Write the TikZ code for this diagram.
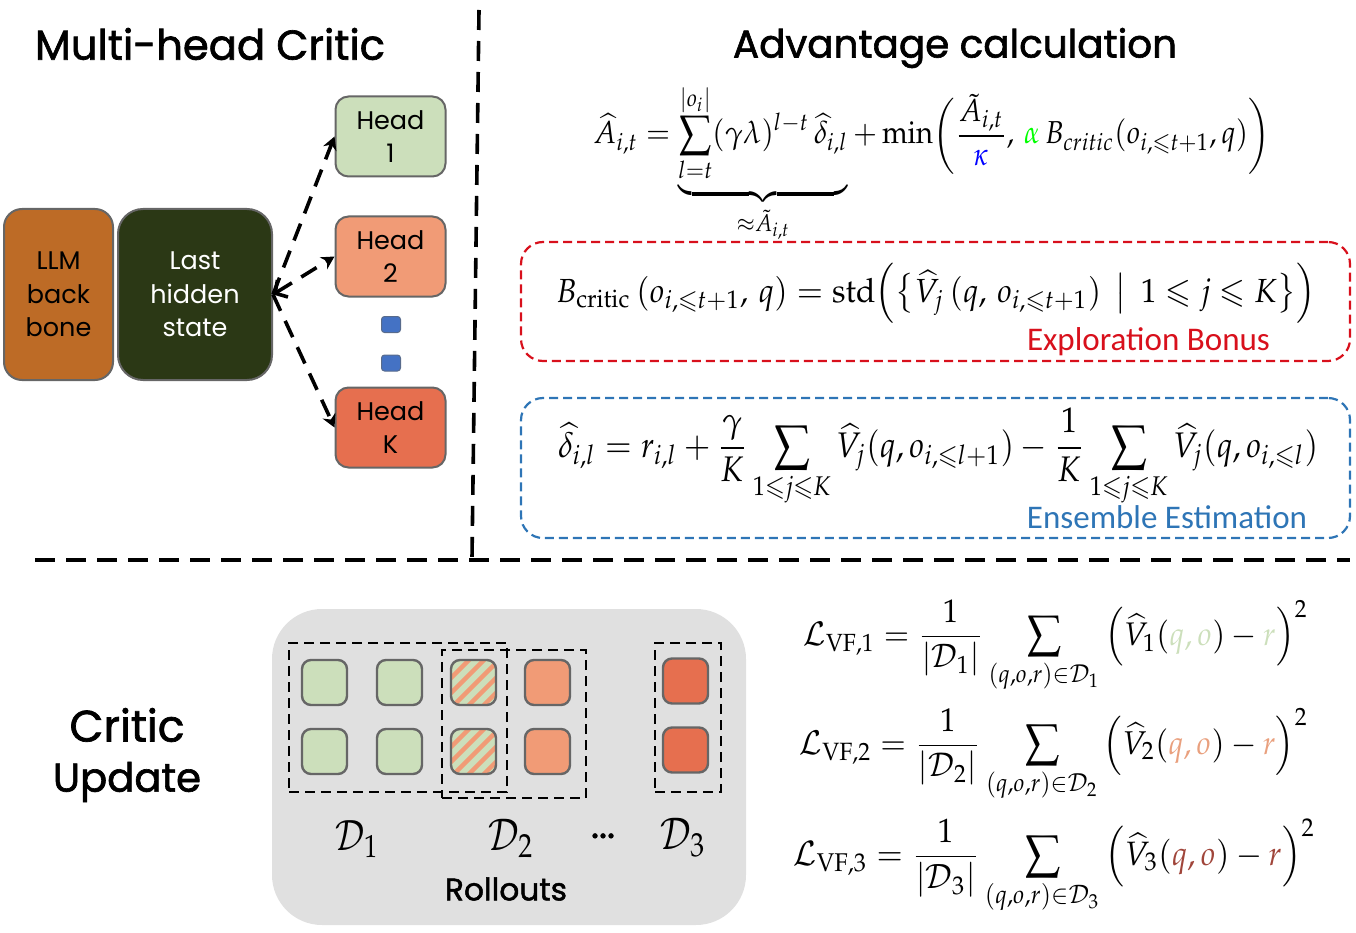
\documentclass[tikz,border=0pt]{standalone}
\usepackage[no-math]{fontspec}
\usepackage{amsmath,amssymb}
\usepackage{mathpazo}
\usepackage{graphicx}
\newfontfamily\handf{Poppins}
\newfontfamily\handb{Poppins}[FakeBold=1.6]
\newfontfamily\carl{Carlito}
\usetikzlibrary{arrows.meta,calc}
\definecolor{cgreen}{HTML}{CCDFBB}
\definecolor{corange}{HTML}{F19B76}
\definecolor{cred}{HTML}{E66F4F}
\definecolor{cbrown}{HTML}{BD6B26}
\definecolor{cdark}{HTML}{2B3815}
\definecolor{cblue}{HTML}{4472C4}
\definecolor{cedge}{HTML}{666666}
\definecolor{cgray}{HTML}{E0E0E0}
\definecolor{bonus}{HTML}{D8101C}
\definecolor{ens}{HTML}{2E75B6}
\definecolor{lthree}{HTML}{A0453A}
\definecolor{ltwo}{HTML}{E9A07E}
\newcommand{\fitw}[2]{\resizebox{#1pt}{!}{#2}}
\newcommand{\fitv}[3]{\resizebox{#1pt}{!}{\scalebox{1}[#2]{#3}}}
\tikzset{
  box/.style={draw=cedge,line width=2pt,rectangle,inner sep=0pt,align=center,font=\handf\fontsize{25.5}{33.5}\selectfont},
  head/.style={box,minimum width=110pt,minimum height=80pt,rounded corners=13pt,text=black},
  sq/.style={draw=cedge,line width=2.4pt,rectangle,inner sep=0pt,minimum width=45pt,minimum height=45pt,rounded corners=9pt},
  dot/.style={draw=cedge!60!cblue,line width=1pt,fill=cblue,rectangle,inner sep=0pt,minimum width=19pt,minimum height=16pt,rounded corners=3pt},
  flow/.style={line width=3.6pt,dash pattern=on 18pt off 11pt,-{Stealth[length=13pt,width=14pt]}},
  divider/.style={line width=3.6pt,black,dash pattern=on 20pt off 11pt},
  group/.style={draw=black,line width=2.3pt,dash pattern=on 10pt off 6pt,rectangle,inner sep=0pt},
  framed/.style={line width=2.2pt,dash pattern=on 9pt off 5pt,rectangle,rounded corners=22pt,inner sep=0pt},
  mathlabel/.style={inner sep=0pt,anchor=base west},
  hand/.style={inner sep=0pt,anchor=center,font=\handb},
  hatched/.style={sq,fill=cgreen,path picture={
    \foreach \d in {-42,-27,-12,3,18,33,48}
      \draw[corange,line width=4.5pt] ($(path picture bounding box.center)+(\d-30,30)$) -- ($(path picture bounding box.center)+(\d+30,-30)$);}}
}
\begin{document}
\begin{tikzpicture}[x=1pt,y=-1pt]
\useasboundingbox (0,0) rectangle (1356,933);
% titles
\node[hand] (t1) at (210,44) {\fitw{350}{Multi-head Critic}};
\node[hand] (t2) at (955,48) {\fitw{444}{Advantage calculation}};
\node[hand] (t3) at (127,725) {\fitw{115}{Critic}};
\node[hand] (t4) at (127,782) {\fitw{148}{Update}};
% dividers
\coordinate (v1) at (479,10); \coordinate (v2) at (472,558);
\coordinate (h1) at (35,560); \coordinate (h2) at (1350,560);
\draw[divider] (v1) -- (v2);
\draw[divider] (h1) -- (h2);
% backbone
\node[box,minimum width=109pt,minimum height=171pt,rounded corners=18pt,fill=cbrown] (llm) at (58.5,294.5) {LLM\\back\\bone};
\node[box,minimum width=154pt,minimum height=171pt,rounded corners=25pt,fill=cdark,text=white] (last) at (195,294.5) {Last\\hidden\\state};
\node[head,fill=cgreen] (h1n) at (390.5,136.5) {Head\\1};
\node[head,fill=corange] (h2n) at (390.5,256.5) {Head\\2};
\node[head,fill=cred] (hkn) at (390.5,427.5) {Head\\K};
\node[dot] (d1) at (391,324.5) {};
\node[dot] (d2) at (391,363) {};
\draw[flow] (last.east) -- (h1n.west);
\draw[flow,{Straight Barb[length=9pt,width=20pt]}-{Stealth[length=13pt,width=14pt]}] (last.east) -- (h2n.west);
\draw[flow] (last.east) -- (hkn.west);
% formula frames
\node[framed,draw=bonus,minimum width=829pt,minimum height=119pt] (fb) at (935.5,301.5) {};
\node[framed,draw=ens,minimum width=829pt,minimum height=140pt] (fe) at (935.5,468) {};
\node[inner sep=0pt,text=bonus] (lb) at (1148.5,342) {\fitw{243}{\carl Exploration Bonus}};
\node[inner sep=0pt,text=ens] (le) at (1167,517) {\fitw{280}{\carl Ensemble Estimation}};
% formulas
\node[mathlabel] (f1) at (593,144) {\fitv{677}{1.09}{$\displaystyle \widehat{A}_{i,t}=\underbrace{\sum_{l=t}^{|o_i|}(\gamma\lambda)^{l-t}\,\widehat{\delta}_{i,l}}_{\approx\tilde{A}_{i,t}}+\min\!\left(\frac{\tilde{A}_{i,t}}{\textcolor{blue}{\kappa}},\,\textcolor{green}{\alpha}\,B_{critic}(o_{i,\leqslant t+1},q)\right)$}};
\node[mathlabel] (f2) at (556,302) {\fitv{760}{1.05}{$\displaystyle B_{\mathrm{critic}}\left(o_{i,\leqslant t+1},\,q\right)=\mathrm{std}\Bigl(\bigl\{\widehat{V}_j\left(q,\,o_{i,\leqslant t+1}\right)\,\bigm|\,1\leqslant j\leqslant K\bigr\}\Bigr)$}};
\node[mathlabel] (f3) at (558,457) {\fitv{760}{1.1}{$\displaystyle \widehat{\delta}_{i,l}=r_{i,l}+\frac{\gamma}{K}\sum_{1\leqslant j\leqslant K}\widehat{V}_j(q,o_{i,\leqslant l+1})-\frac{1}{K}\sum_{1\leqslant j\leqslant K}\widehat{V}_j(q,o_{i,\leqslant l})$}};
% rollouts
\node[rectangle,fill=cgray,minimum width=474pt,minimum height=316pt,rounded corners=50pt,inner sep=0pt] (roll) at (509,767) {};
\node[sq,fill=cgreen] (a11) at (324.5,682.5) {};
\node[sq,fill=cgreen] (a12) at (399.5,682.5) {};
\node[hatched] (a13) at (473.5,682.5) {};
\node[sq,fill=corange] (a14) at (547.5,682.5) {};
\node[sq,fill=cgreen] (a21) at (324.5,751.5) {};
\node[sq,fill=cgreen] (a22) at (399.5,751.5) {};
\node[hatched] (a23) at (473.5,751.5) {};
\node[sq,fill=corange] (a24) at (547.5,751.5) {};
\node[sq,fill=cred] (a15) at (685.5,681) {};
\node[sq,fill=cred] (a25) at (685.5,750) {};
\node[group,minimum width=218pt,minimum height=149pt] (g1) at (398,717.5) {};
\node[group,minimum width=144pt,minimum height=148pt] (g2) at (514,724) {};
\node[group,minimum width=66pt,minimum height=149pt] (g3) at (688,717.5) {};
\node[mathlabel] (l1) at (335,850) {\fitv{44}{1.2}{$\mathcal{D}_1$}};
\node[mathlabel] (l2) at (488,850) {\fitv{46}{1.2}{$\mathcal{D}_2$}};
\node[mathlabel] (l3) at (660,849) {\fitv{46}{1.2}{$\mathcal{D}_3$}};
\node[inner sep=0pt,anchor=base] (ld) at (603,838) {\fitw{24}{\handb ...}};
\node[hand] (lr) at (506,889) {\fitw{122}{Rollouts}};
% losses
\node[mathlabel] (m1) at (803,645) {\fitv{505}{1.06}{$\displaystyle \mathcal{L}_{\mathrm{VF},1}=\frac{1}{|\mathcal{D}_1|}\sum_{(q,o,r)\in\mathcal{D}_1}\left(\widehat{V}_1(\textcolor{cgreen}{q,o})-\textcolor{cgreen}{r}\right)^{2}$}};
\node[mathlabel] (m2) at (799,754) {\fitv{509}{1.06}{$\displaystyle \mathcal{L}_{\mathrm{VF},2}=\frac{1}{|\mathcal{D}_2|}\sum_{(q,o,r)\in\mathcal{D}_2}\left(\widehat{V}_2(\textcolor{ltwo}{q,o})-\textcolor{ltwo}{r}\right)^{2}$}};
\node[mathlabel] (m3) at (793,865) {\fitv{522}{1.06}{$\displaystyle \mathcal{L}_{\mathrm{VF},3}=\frac{1}{|\mathcal{D}_3|}\sum_{(q,o,r)\in\mathcal{D}_3}\left(\widehat{V}_3(\textcolor{lthree}{q,o})-\textcolor{lthree}{r}\right)^{2}$}};
\end{tikzpicture}
\end{document}
